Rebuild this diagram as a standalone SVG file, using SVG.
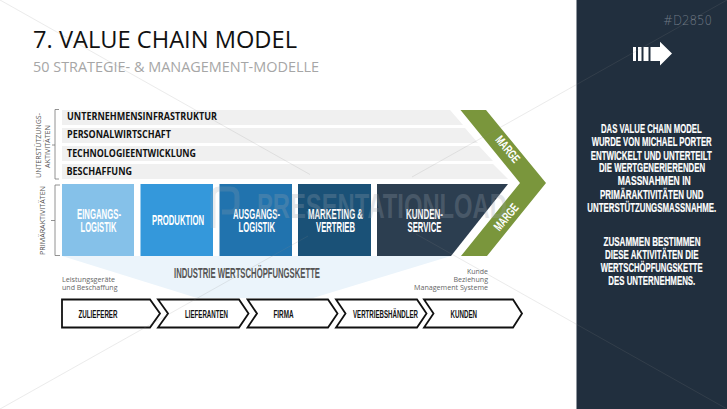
<svg xmlns="http://www.w3.org/2000/svg" width="727" height="409" viewBox="0 0 727 409">
<style>
text{font-family:"Liberation Sans Narrow","Liberation Sans",Arial,sans-serif}
.os{font-family:"Open Sans","Liberation Sans",sans-serif}
.row{fill:#f0f0f0}
.rl{font-family:"Open Sans","Liberation Sans",sans-serif;font-size:10px;font-weight:700;fill:#111}
.bx{font-size:15px;font-weight:700;fill:#fff}
.ch{fill:#fff;stroke:#111;stroke-width:1.8}
.cl{font-size:11.5px;font-weight:700;fill:#111}
.side{font-size:13.5px;font-weight:700;fill:#fff;stroke:#fff;stroke-width:.2}
.sm{font-family:"Open Sans","Liberation Sans",sans-serif;font-size:7.5px;fill:#666}
.vl{font-family:"Open Sans","Liberation Sans",sans-serif;font-size:7px;fill:#555}
.br{fill:none;stroke:#777;stroke-width:.8}
.wl{stroke:#8a8a8a;stroke-width:.6;opacity:.28}
.mg{font-size:12.5px;font-weight:700;fill:#fff;text-anchor:middle}
</style>
<rect width="727" height="409" fill="#fff"/>
<g id="header">
<text class="os" x="33" y="47.5" font-size="24" fill="#111" textLength="264" lengthAdjust="spacingAndGlyphs">7. VALUE CHAIN MODEL</text>
<text class="os" x="33" y="72" font-size="15" fill="#a6a6a6" textLength="286" lengthAdjust="spacingAndGlyphs">50 STRATEGIE- &amp; MANAGEMENT-MODELLE</text>
</g>
<path id="industry-band" d="M62 256H451L313 298H197Z" fill="#ebf4fb"/>
<g id="support-rows">
<path class="row" d="M62 110H450L463 125H62Z"/>
<path class="row" d="M62 128H465L478 143H62Z"/>
<path class="row" d="M62 146H479L493 161H62Z"/>
<path class="row" d="M62 164H493L508 179H62Z"/>
<text class="rl" x="67" y="119.5" textLength="150" lengthAdjust="spacingAndGlyphs">UNTERNEHMENSINFRASTRUKTUR</text>
<text class="rl" x="67" y="138" textLength="104" lengthAdjust="spacingAndGlyphs">PERSONALWIRTSCHAFT</text>
<text class="rl" x="67" y="156.5" textLength="129" lengthAdjust="spacingAndGlyphs">TECHNOLOGIEENTWICKLUNG</text>
<text class="rl" x="66.5" y="174.5" textLength="65.5" lengthAdjust="spacingAndGlyphs">BESCHAFFUNG</text>
</g>
<g id="brackets">
<path class="br" d="M59 109.5H55V179H59M55 145H52"/>
<path class="br" d="M60 185H55V255.5H60M55 220.5H51"/>
<text class="vl" transform="translate(40.5 178) rotate(-90)" textLength="65" lengthAdjust="spacingAndGlyphs">UNTERSTÜTZUNGS-</text>
<text class="vl" transform="translate(49.5 168) rotate(-90)" textLength="43" lengthAdjust="spacingAndGlyphs">AKTIVITÄTEN</text>
<text class="vl" transform="translate(45 255) rotate(-90)" textLength="69" lengthAdjust="spacingAndGlyphs">PRIMÄRAKTIVITÄTEN</text>
</g>
<g id="node-eingangslogistik">
<rect x="62" y="184" width="72" height="72" fill="#85c1e9"/>
<text class="bx" transform="translate(77 218.5) scale(.62 1)" textLength="71" lengthAdjust="spacingAndGlyphs">EINGANGS-</text>
<text class="bx" transform="translate(80.5 232) scale(.62 1)" textLength="58" lengthAdjust="spacingAndGlyphs">LOGISTIK</text>
</g>
<g id="node-produktion">
<rect x="140.500" y="184" width="72.500" height="72" fill="#3498db"/>
<text class="bx" transform="translate(152 225) scale(.62 1)" textLength="83.900" lengthAdjust="spacingAndGlyphs">PRODUKTION</text>
</g>
<g id="node-ausgangslogistik">
<rect x="219.500" y="184" width="72.500" height="72" fill="#2173ae"/>
<text class="bx" transform="translate(233 218.5) scale(.62 1)" textLength="75.800" lengthAdjust="spacingAndGlyphs">AUSGANGS-</text>
<text class="bx" transform="translate(238.500 232) scale(.62 1)" textLength="58.900" lengthAdjust="spacingAndGlyphs">LOGISTIK</text>
</g>
<g id="node-marketing">
<rect x="298" y="184" width="73" height="72" fill="#1a5177"/>
<text class="bx" transform="translate(308 218.5) scale(.62 1)" textLength="88.700" lengthAdjust="spacingAndGlyphs">MARKETING &amp;</text>
<text class="bx" transform="translate(316 232) scale(.62 1)" textLength="62.900" lengthAdjust="spacingAndGlyphs">VERTRIEB</text>
</g>
<g id="node-kundenservice">
<path d="M377 184H508L451 256H377Z" fill="#2c3e50"/>
<text class="bx" transform="translate(406 218.5) scale(.62 1)" textLength="59.700" lengthAdjust="spacingAndGlyphs">KUNDEN-</text>
<text class="bx" transform="translate(407.500 232) scale(.62 1)" textLength="54.800" lengthAdjust="spacingAndGlyphs">SERVICE</text>
</g>
<g id="node-marge">
<path d="M460.500 110H486L546 183L487 256H461L520 183Z" fill="#7a963c"/>
<text class="mg" transform="translate(508 149) rotate(50.500) scale(.62 1)" y="4.500" textLength="50" lengthAdjust="spacingAndGlyphs">MARGE</text>
<text class="mg" transform="translate(506 217) rotate(-50.500) scale(.62 1)" y="4.500" textLength="50" lengthAdjust="spacingAndGlyphs">MARGE</text>
</g>
<g id="watermark">
<path d="M213 228V196Q213 189 220 189H230Q237 189 237 196V205Q237 212 230 212H222" fill="none" stroke="#9aa3ad" stroke-width="5" opacity=".22"/>
<text transform="translate(257 218) scale(.62 1)" font-size="35" font-weight="700" fill="#9aa3ad" opacity=".26" textLength="403" lengthAdjust="spacingAndGlyphs">PRESENTATIONLOAD</text>
</g>
<text id="industry-label" transform="translate(174 278) scale(.62 1)" font-size="15" font-weight="700" fill="#555" textLength="235.500" lengthAdjust="spacingAndGlyphs">INDUSTRIE WERTSCHÖPFUNGSKETTE</text>
<g id="notes">
<text class="sm" x="62" y="282" textLength="53" lengthAdjust="spacingAndGlyphs">Leistungsgeräte</text>
<text class="sm" x="62" y="290" textLength="55.500" lengthAdjust="spacingAndGlyphs">und Beschaffung</text>
<text class="sm" x="467" y="274" textLength="21" lengthAdjust="spacingAndGlyphs">Kunde</text>
<text class="sm" x="453.500" y="282" textLength="34.500" lengthAdjust="spacingAndGlyphs">Beziehung</text>
<text class="sm" x="414" y="290" textLength="74" lengthAdjust="spacingAndGlyphs">Management Systeme</text>
</g>
<g id="chain">
<g id="node-zulieferer"><path class="ch" d="M62 299.500H150L160 313.500L150 327.500H62Z"/><text class="cl" transform="translate(78.500 317.500) scale(.62 1)" textLength="62.900" lengthAdjust="spacingAndGlyphs">ZULIEFERER</text></g>
<g id="node-lieferanten"><path class="ch" d="M158 299.500H239L248.500 313.500L239 327.500H158L168 313.500Z"/><text class="cl" transform="translate(185 317.500) scale(.62 1)" textLength="69.400" lengthAdjust="spacingAndGlyphs">LIEFERANTEN</text></g>
<g id="node-firma"><path class="ch" d="M247.500 299.500H328L337.500 313.500L328 327.500H247.500L257 313.500Z"/><text class="cl" transform="translate(273.500 317.500) scale(.62 1)" textLength="32.300" lengthAdjust="spacingAndGlyphs">FIRMA</text></g>
<g id="node-vertriebshaendler"><path class="ch" d="M336 299.500H417L426.500 313.500L417 327.500H336L345.500 313.500Z"/><text class="cl" transform="translate(353 317.500) scale(.62 1)" textLength="104.800" lengthAdjust="spacingAndGlyphs">VERTRIEBSHÄNDLER</text></g>
<g id="node-kunden"><path class="ch" d="M424 299.500H513L522 313.500L513 327.500H424L433.500 313.500Z"/><text class="cl" transform="translate(450.500 317.500) scale(.62 1)" textLength="42.700" lengthAdjust="spacingAndGlyphs">KUNDEN</text></g>
</g>
<g id="side-panel">
<rect x="576.500" y="0" width="150.500" height="409" fill="#212f3e"/>
<text x="663" y="25" style="font-family:'DejaVu Sans',sans-serif;font-weight:200" font-size="13.500" fill="#6f7985" textLength="49" lengthAdjust="spacingAndGlyphs">#D2850</text>
<path d="M633 47h3v14h-3zM638 47h3.500v14H638zM643.500 47H648.500v14H643.500zM650.500 47H660V41.700L672 53.500L660 65.500V61H650.500Z" fill="#fff"/>
<text class="side" transform="translate(601 132.500) scale(.62 1)" textLength="162.400" lengthAdjust="spacingAndGlyphs">DAS VALUE CHAIN MODEL</text>
<text class="side" transform="translate(591.700 146) scale(.62 1)" textLength="193.500" lengthAdjust="spacingAndGlyphs">WURDE VON MICHAEL PORTER</text>
<text class="side" transform="translate(590.700 159.500) scale(.62 1)" textLength="195.200" lengthAdjust="spacingAndGlyphs">ENTWICKELT UND UNTERTEILT</text>
<text class="side" transform="translate(599 172) scale(.62 1)" textLength="171" lengthAdjust="spacingAndGlyphs">DIE WERTGENERIERENDEN</text>
<text class="side" transform="translate(617.700 185) scale(.62 1)" textLength="117.700" lengthAdjust="spacingAndGlyphs">MASSNAHMEN IN</text>
<text class="side" transform="translate(600 198.500) scale(.62 1)" textLength="166.900" lengthAdjust="spacingAndGlyphs">PRIMÄRAKTIVITÄTEN UND</text>
<text class="side" transform="translate(587.300 211.500) scale(.62 1)" textLength="208" lengthAdjust="spacingAndGlyphs">UNTERSTÜTZUNGSMASSNAHME.</text>
<text class="side" transform="translate(603.500 245.500) scale(.62 1)" textLength="156.500" lengthAdjust="spacingAndGlyphs">ZUSAMMEN BESTIMMEN</text>
<text class="side" transform="translate(605 258.500) scale(.62 1)" textLength="150.800" lengthAdjust="spacingAndGlyphs">DIESE AKTIVITÄTEN DIE</text>
<text class="side" transform="translate(600.700 271.500) scale(.62 1)" textLength="164.500" lengthAdjust="spacingAndGlyphs">WERTSCHÖPFUNGSKETTE</text>
<text class="side" transform="translate(608.300 284.500) scale(.62 1)" textLength="140.300" lengthAdjust="spacingAndGlyphs">DES UNTERNEHMENS.</text>
</g>
<g id="watermark-lines">
<path class="wl" d="M0 0L310 174.500M416 234L727 409M0 409L308 236M412 177L727 0"/>
</g>
</svg>
